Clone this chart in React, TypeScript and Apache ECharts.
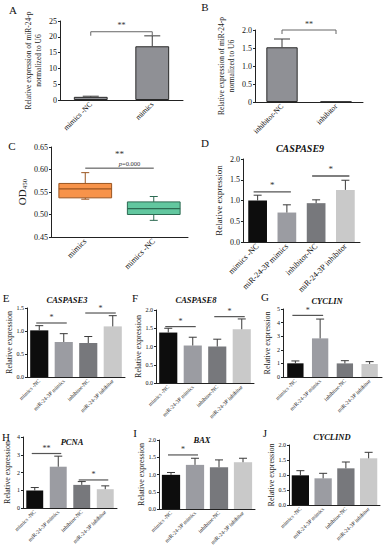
import React, { useEffect, useRef } from "react";
import * as echarts from "echarts";

// ---------- data ----------
const aCats = ["mimics -NC", "mimics"];
const aVals = [1.0, 17.0];
const aErr = [1.2, 20.3];

const bCats = ["inhibitor-NC", "inhibitor"];
const bVals = [1.52, 0.01];
const bErr = [1.75, 0.01];

const cCats = ["mimics", "mimics -NC"];
// [min, Q1, median, Q3, max]
const cBoxes = [
  [0.534, 0.537, 0.557, 0.569, 0.593],
  [0.487, 0.5, 0.513, 0.528, 0.54],
];

const geneCats = ["mimics -NC", "miR-24-3P mimics", "inhibitor-NC", "miR-24-3P inhibitor"];

const dVals = [1.0, 0.71, 0.936, 1.256];
const dErr = [1.128, 0.896, 1.016, 1.488];
const eVals = [1.014, 0.761, 0.739, 1.1];
const eErr = [1.116, 0.942, 0.88, 1.333];
const fVals = [1.382, 1.027, 1.0, 1.473];
const fErr = [1.5, 1.254, 1.2, 1.755];
const gVals = [1.005, 2.84, 1.0, 0.956];
const gErr = [1.18, 4.26, 1.2, 1.13];
const hVals = [0.986, 2.326, 1.302, 1.06];
const hErr = [1.153, 2.92, 1.488, 1.247];
const iVals = [0.99, 1.279, 1.21, 1.356];
const iErr = [1.058, 1.471, 1.423, 1.471];
const jVals = [0.989, 0.889, 1.222, 1.556];
const jErr = [1.144, 1.056, 1.433, 1.756];

// significance: [fromIndex, toIndex, level]
const aSig = [[0, 1, 21.6]];
const bSig = [[0, 1, 2.0]];
const cSig = [[0, 1, 0.603]];
const dSig = [[0, 1, 1.208], [2, 3, 1.592]];
const eSig = [[0, 1, 1.174], [2, 3, 1.391]];
const fSig = [[0, 1, 1.545], [2, 3, 1.818]];
const gSig = [[0, 1, 4.53]];
const hSig = [[0, 1, 3.07], [2, 3, 1.58]];
const iSig = [[0, 1, 1.567]];
const jSig: number[][] = [];

const aStars = ["**"];
const bStars = ["**"];
const cStars = ["**"];
const dStars = ["*", "*"];
const eStars = ["*", "*"];
const fStars = ["*", "*"];
const gStars = ["*"];
const hStars = ["**", "*"];
const iStars = ["*"];
const jStars: string[] = [];

const u6Title = "Relative expression of miR-24-p\nnormalized to U6";

// ---------- styling ----------
const FONT = '"Liberation Serif", "Times New Roman", serif';
const AXIS = "#222";
const geneColors = ["#0d0d0d", "#9b9ca2", "#77787c", "#c9c9c9"];
const boxFill = ["#f7934a", "#62c79f"];
const boxLine = ["#9b5520", "#2d6a52"];

function makeErr(capHalf: number) {
  return (params: any, api: any) => {
    const x = api.value(0);
    const v = api.value(1);
    const e = api.value(2);
    if (e <= v) return { type: "group", children: [] };
    const p0 = api.coord([x, v]);
    const p1 = api.coord([x, e]);
    const st = { stroke: "#3a3a3a", lineWidth: 1 };
    return {
      type: "group",
      children: [
        { type: "line", shape: { x1: p0[0], y1: p0[1], x2: p1[0], y2: p1[1] }, style: st },
        { type: "line", shape: { x1: p1[0] - capHalf, y1: p1[1], x2: p1[0] + capHalf, y2: p1[1] }, style: st },
      ],
    };
  };
}

function makeSig(stars: string[], opts: { bracket?: boolean; ext?: number; font: number; gap: number; color: string; lw: number; extra?: string }) {
  return (params: any, api: any) => {
    const a = api.value(0);
    const b = api.value(1);
    const y = api.value(2);
    const p0 = api.coord([a, y]);
    const p1 = api.coord([b, y]);
    const ext = opts.ext || 0;
    const st = { stroke: opts.color, lineWidth: opts.lw };
    const children: any[] = [
      { type: "line", shape: { x1: p0[0] - ext, y1: p0[1], x2: p1[0] + ext, y2: p1[1] }, style: st },
    ];
    if (opts.bracket) {
      children.push({ type: "line", shape: { x1: p0[0] - ext, y1: p0[1], x2: p0[0] - ext, y2: p0[1] + 4 }, style: st });
      children.push({ type: "line", shape: { x1: p1[0] + ext, y1: p1[1], x2: p1[0] + ext, y2: p1[1] + 4 }, style: st });
    }
    const cx = (p0[0] + p1[0]) / 2;
    children.push({
      type: "text",
      x: cx,
      y: p0[1] - opts.gap,
      style: {
        text: stars[params.dataIndex] || "",
        font: `${opts.font}px ${FONT}`,
        fill: "#333",
        align: "center",
        verticalAlign: "middle",
      },
    });
    if (opts.extra) {
      children.push({
        type: "text",
        x: cx + 10,
        y: p0[1] - 5,
        style: {
          text: "{i|p}=0.000",
          rich: { i: { fontStyle: "italic", fontSize: 6.5, fontFamily: FONT } },
          font: `6.5px ${FONT}`,
          fill: "#333",
          align: "center",
          verticalAlign: "middle",
        },
      });
    }
    return { type: "group", children };
  };
}

function boxRender(params: any, api: any) {
  const x = api.value(0);
  const mn = api.value(1), q1 = api.value(2), md = api.value(3), q3 = api.value(4), mx = api.value(5);
  const w = api.size([1, 0])[0] * 0.77;
  const pMin = api.coord([x, mn]);
  const pQ1 = api.coord([x, q1]);
  const pMd = api.coord([x, md]);
  const pQ3 = api.coord([x, q3]);
  const pMax = api.coord([x, mx]);
  const i = params.dataIndex;
  const st = { stroke: boxLine[i], lineWidth: 1 };
  const cx = pQ1[0];
  const cap = 4;
  return {
    type: "group",
    children: [
      { type: "line", shape: { x1: cx, y1: pMax[1], x2: cx, y2: pQ3[1] }, style: st },
      { type: "line", shape: { x1: cx, y1: pQ1[1], x2: cx, y2: pMin[1] }, style: st },
      { type: "line", shape: { x1: cx - cap, y1: pMax[1], x2: cx + cap, y2: pMax[1] }, style: st },
      { type: "line", shape: { x1: cx - cap, y1: pMin[1], x2: cx + cap, y2: pMin[1] }, style: st },
      {
        type: "rect",
        shape: { x: cx - w / 2, y: pQ3[1], width: w, height: pQ1[1] - pQ3[1] },
        style: { fill: boxFill[i], stroke: boxLine[i], lineWidth: 1 },
      },
      { type: "line", shape: { x1: cx - w / 2, y1: pMd[1], x2: cx + w / 2, y2: pMd[1] }, style: { stroke: boxLine[i], lineWidth: 1.2 } },
    ],
  };
}

type Panel = {
  grid: any;
  cats: string[];
  max: number;
  min?: number;
  interval: number;
  fmt: (v: number) => string;
  yName: string;
  yNameSize: number;
  yNameGap: number;
  tickSize: number;
  xLabelSize: number;
  kind: "bar" | "box";
  vals?: number[];
  errs?: number[];
  colors?: string[];
  border?: boolean;
  barWidth?: string;
  capHalf?: number;
  sig: number[][];
  stars: string[];
  sigOpts: any;
  yNameRich?: any;
};

const f1 = (v: number) => Number(v).toFixed(1);
const fB = (v: number) => (Number(v) === 0 ? "0" : Number(v).toFixed(1));
const f0 = (v: number) => String(Math.round(Number(v)));
const f2 = (v: number) => Number(v).toFixed(2);

const geneSigSmall = { font: 8, gap: 5, color: "#555", lw: 1.2, ext: 3 };

const panels: Panel[] = [
  {
    grid: { left: 60, top: 21, width: 123, height: 79 },
    cats: aCats, max: 25, interval: 5, fmt: f0,
    yName: u6Title, yNameSize: 7.5, yNameGap: 17,
    tickSize: 8, xLabelSize: 7.5, kind: "bar", vals: aVals, errs: aErr,
    colors: ["#8f9095", "#8f9095"], border: true, barWidth: "55%", capHalf: 8,
    sig: aSig, stars: aStars, sigOpts: { bracket: true, font: 8, gap: 6, color: "#666", lw: 1 },
  },
  {
    grid: { left: 255, top: 30, width: 108, height: 72 },
    cats: bCats, max: 2, interval: 0.5, fmt: fB,
    yName: u6Title, yNameSize: 7.5, yNameGap: 19,
    tickSize: 8, xLabelSize: 7.5, kind: "bar", vals: bVals, errs: bErr,
    colors: ["#8f9095", "#8f9095"], border: true, barWidth: "58%", capHalf: 8,
    sig: bSig, stars: bStars, sigOpts: { bracket: true, font: 8, gap: 6, color: "#666", lw: 1 },
  },
  {
    grid: { left: 51, top: 147, width: 137, height: 90 },
    cats: cCats, min: 0.45, max: 0.65, interval: 0.05, fmt: f2,
    yName: "OD{s|450}", yNameSize: 11, yNameGap: 22,
    yNameRich: { s: { fontSize: 7, fontFamily: FONT, color: "#222", padding: [6, 0, 0, 0] } },
    tickSize: 8, xLabelSize: 8, kind: "box",
    sig: cSig, stars: cStars, sigOpts: { font: 9, gap: 14, color: "#444", lw: 1, extra: "p" },
  },
  {
    grid: { left: 243, top: 159, width: 117, height: 83 },
    cats: geneCats, max: 2, interval: 0.5, fmt: f1,
    yName: "Relative expression", yNameSize: 9, yNameGap: 18,
    tickSize: 8, xLabelSize: 8, kind: "bar", vals: dVals, errs: dErr,
    colors: geneColors, barWidth: "64%", capHalf: 4,
    sig: dSig, stars: dStars, sigOpts: { font: 9, gap: 7, color: "#555", lw: 1.4, ext: 4 },
  },
  {
    grid: { left: 27, top: 308, width: 98, height: 69 },
    cats: geneCats, max: 1.5, interval: 0.5, fmt: f1,
    yName: "Relative expression", yNameSize: 8, yNameGap: 12,
    tickSize: 6, xLabelSize: 5.5, kind: "bar", vals: eVals, errs: eErr,
    colors: geneColors, barWidth: "74%", capHalf: 4,
    sig: eSig, stars: eStars, sigOpts: geneSigSmall,
  },
  {
    grid: { left: 156, top: 310, width: 98, height: 73 },
    cats: geneCats, max: 2, interval: 0.5, fmt: f1,
    yName: "Relative expression", yNameSize: 8, yNameGap: 12,
    tickSize: 6, xLabelSize: 5.5, kind: "bar", vals: fVals, errs: fErr,
    colors: geneColors, barWidth: "74%", capHalf: 4,
    sig: fSig, stars: fStars, sigOpts: geneSigSmall,
  },
  {
    grid: { left: 283, top: 309, width: 99, height: 68 },
    cats: geneCats, max: 5, interval: 1, fmt: f0,
    yName: "Relative expression", yNameSize: 8, yNameGap: 10,
    tickSize: 6, xLabelSize: 5.5, kind: "bar", vals: gVals, errs: gErr,
    colors: geneColors, barWidth: "66%", capHalf: 4,
    sig: gSig, stars: gStars, sigOpts: geneSigSmall,
  },
  {
    grid: { left: 23, top: 437, width: 94, height: 71 },
    cats: geneCats, max: 4, interval: 1, fmt: f0,
    yName: "Relative expression", yNameSize: 8, yNameGap: 10,
    tickSize: 6, xLabelSize: 5.5, kind: "bar", vals: hVals, errs: hErr,
    colors: geneColors, barWidth: "72%", capHalf: 4,
    sig: hSig, stars: hStars, sigOpts: geneSigSmall,
  },
  {
    grid: { left: 159, top: 440, width: 96, height: 69 },
    cats: geneCats, max: 2, interval: 0.5, fmt: f1,
    yName: "Relative expression", yNameSize: 8, yNameGap: 12,
    tickSize: 6, xLabelSize: 5.5, kind: "bar", vals: iVals, errs: iErr,
    colors: geneColors, barWidth: "76%", capHalf: 4,
    sig: iSig, stars: iStars, sigOpts: geneSigSmall,
  },
  {
    grid: { left: 289, top: 445, width: 91, height: 60 },
    cats: geneCats, max: 2, interval: 0.5, fmt: f1,
    yName: "Relative expression", yNameSize: 8, yNameGap: 12,
    tickSize: 6, xLabelSize: 5.5, kind: "bar", vals: jVals, errs: jErr,
    colors: geneColors, barWidth: "76%", capHalf: 4,
    sig: jSig, stars: jStars, sigOpts: geneSigSmall,
  },
];

const panelLetters = [
  { t: "A", x: 13, y: 10 },
  { t: "B", x: 205, y: 7 },
  { t: "C", x: 12, y: 146 },
  { t: "D", x: 205, y: 143 },
  { t: "E", x: 6, y: 298 },
  { t: "F", x: 135, y: 298 },
  { t: "G", x: 265, y: 297 },
  { t: "H", x: 6, y: 437 },
  { t: "I", x: 135, y: 433 },
  { t: "J", x: 265, y: 433 },
];

const geneTitles = [
  { t: "CASPASE9", x: 300, y: 148, s: 10 },
  { t: "CASPASE3", x: 67, y: 300, s: 8.5 },
  { t: "CASPASE8", x: 196, y: 300, s: 8.5 },
  { t: "CYCLIN", x: 327, y: 301, s: 8.5 },
  { t: "PCNA", x: 72, y: 442, s: 8.5 },
  { t: "BAX", x: 202, y: 440, s: 8.5 },
  { t: "CYCLIND", x: 332, y: 437, s: 8.5 },
];

function panelOption(p: Panel) {
  const series: any[] = [];
  if (p.kind === "bar") {
    series.push({
      type: "bar",
      barWidth: p.barWidth,
      data: (p.vals as number[]).map((v, i) => ({
        value: v,
        itemStyle: {
          color: (p.colors as string[])[i],
          borderColor: p.border ? "#2a2a2a" : undefined,
          borderWidth: p.border ? 1 : 0,
        },
      })),
    });
    series.push({
      type: "custom",
      renderItem: makeErr(p.capHalf || 4),
      data: (p.vals as number[]).map((v, i) => [i, v, (p.errs as number[])[i]]),
      z: 3,
    });
  } else {
    series.push({
      type: "custom",
      renderItem: boxRender,
      data: cBoxes.map((b, i) => [i, ...b]),
      z: 2,
    });
  }
  if (p.sig.length) {
    series.push({
      type: "custom",
      renderItem: makeSig(p.stars, p.sigOpts),
      data: p.sig,
      z: 4,
      clip: false,
    });
  }
  return {
    animation: false,
    backgroundColor: "transparent",
    grid: { ...p.grid },
    xAxis: {
      type: "category",
      data: p.cats,
      axisLine: { lineStyle: { color: AXIS, width: 1 } },
      axisTick: { alignWithLabel: true, length: 2, lineStyle: { color: AXIS } },
      axisLabel: {
        rotate: 45,
        fontSize: p.xLabelSize,
        fontFamily: FONT,
        color: "#111",
        margin: 3,
        interval: 0,
      },
    },
    yAxis: {
      type: "value",
      min: p.min ?? 0,
      max: p.max,
      interval: p.interval,
      splitLine: { show: false },
      axisLine: { show: true, lineStyle: { color: AXIS, width: 1 } },
      axisTick: { show: true, length: 2, lineStyle: { color: AXIS } },
      axisLabel: {
        show: true,
        fontSize: p.tickSize,
        fontFamily: FONT,
        color: "#111",
        margin: 3,
        formatter: p.fmt,
      },
      name: p.yName,
      nameLocation: "middle",
      nameRotate: 90,
      nameGap: p.yNameGap,
      nameMoveOverlap: false,
      nameTextStyle: {
        fontSize: p.yNameSize,
        fontFamily: FONT,
        color: "#222",
        lineHeight: p.yNameSize * 1.3,
        rich: p.yNameRich,
      },
    },
    series,
  };
}

function textOption() {
  const graphic: any[] = [];
  panelLetters.forEach((l) => {
    graphic.push({
      type: "text",
      x: l.x,
      y: l.y,
      style: { text: l.t, font: `11px ${FONT}`, fill: "#111", align: "center", verticalAlign: "middle" },
    });
  });
  geneTitles.forEach((g) => {
    graphic.push({
      type: "text",
      x: g.x,
      y: g.y,
      style: {
        text: g.t,
        font: `italic bold ${g.s}px ${FONT}`,
        fill: "#111",
        align: "center",
        verticalAlign: "middle",
      },
    });
  });
  return { animation: false, backgroundColor: "transparent", graphic };
}

const layerStyle: React.CSSProperties = { position: "absolute", left: 0, top: 0, width: 386, height: 550 };

export default function App() {
  const refs = useRef<(HTMLDivElement | null)[]>([]);
  const textRef = useRef<HTMLDivElement>(null);
  useEffect(() => {
    document.body.style.margin = "0";
    const charts: any[] = [];
    panels.forEach((p, k) => {
      const el = refs.current[k];
      if (!el) return;
      const c = echarts.init(el, null, { renderer: "svg" });
      c.setOption(panelOption(p));
      charts.push(c);
    });
    if (textRef.current) {
      const t = echarts.init(textRef.current, null, { renderer: "svg" });
      t.setOption(textOption());
      charts.push(t);
    }
    return () => charts.forEach((c) => c.dispose());
  }, []);
  return (
    <div style={{ position: "relative", width: 386, height: 550, background: "#fff" }}>
      {panels.map((p, k) => (
        <div key={k} ref={(el) => { refs.current[k] = el; }} style={layerStyle} />
      ))}
      <div ref={textRef} style={{ ...layerStyle, pointerEvents: "none" }} />
    </div>
  );
}
